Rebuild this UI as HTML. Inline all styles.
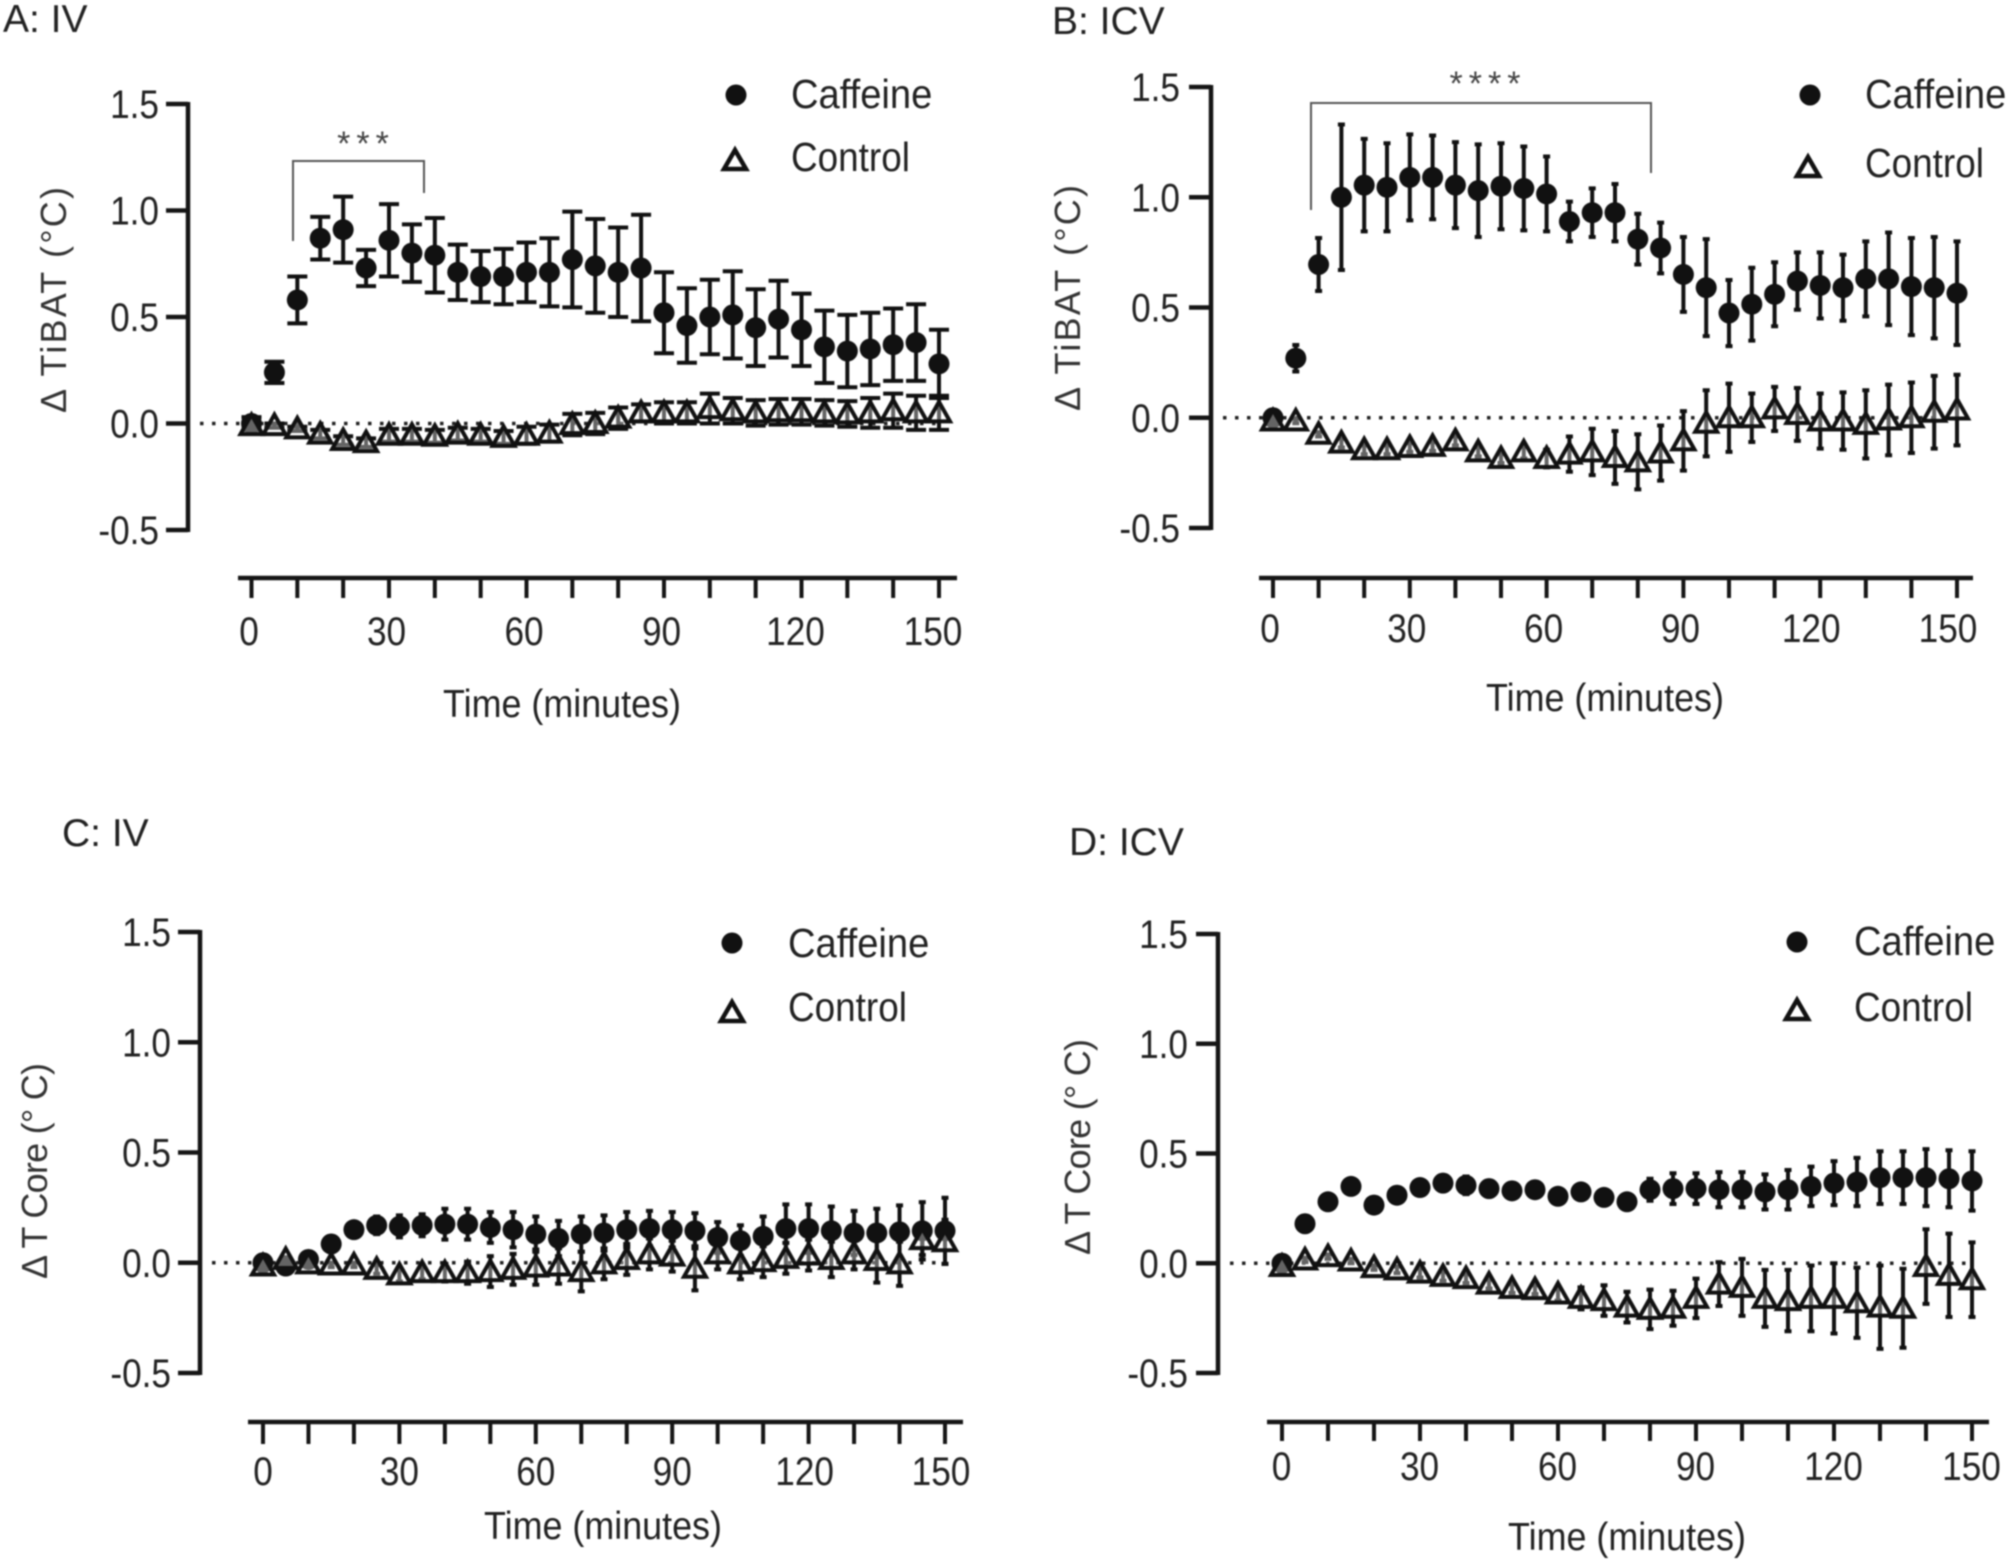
<!DOCTYPE html>
<html lang="en">
<head>
<meta charset="utf-8">
<title>Caffeine effect on TiBAT and core temperature</title>
<style>
html,body{margin:0;padding:0;background:#fff;width:2007px;height:1564px;overflow:hidden}
svg{display:block;filter:blur(.9px)}
text{font-family:"Liberation Sans",sans-serif;fill:#222;font-size:36px}
</style>
</head>
<body>
<svg id="figure" width="2007" height="1564" viewBox="0 0 2007 1564" xmlns="http://www.w3.org/2000/svg">
  <rect width="2007" height="1564" fill="#fff"/>

  <g id="panel-a">
    <text x="3" y="32" style="font-size:39px">A: IV</text>
    <text transform="translate(66,300) rotate(-90)" text-anchor="middle" textLength="226" style="fill:#333">Δ TiBAT (°C)</text>
    <text transform="translate(562,717) scale(.92,1)" text-anchor="middle" style="font-size:39px">Time (minutes)</text>
    <circle cx="736" cy="95" r="10.5" fill="#111"/>
    <text transform="translate(791,108) scale(.93,1)" style="font-size:41px">Caffeine</text>
    <path d="M735 150 L746 169 L724 169 Z" fill="#fff" stroke="#111" stroke-width="4.5"/>
    <text transform="translate(791,171) scale(.9,1)" style="font-size:41px">Control</text>
    <path d="M293 241 V161 H424 V193" fill="none" stroke="#555" stroke-width="2"/>
    <text x="366" y="155" text-anchor="middle" style="font-size:34px;letter-spacing:6px;fill:#444">***</text>
  </g>

  <g id="panel-b">
    <text x="1052" y="34" style="font-size:39px">B: ICV</text>
    <text transform="translate(1080,298) rotate(-90)" text-anchor="middle" textLength="226" style="fill:#333">Δ TiBAT (°C)</text>
    <text transform="translate(1605,711) scale(.92,1)" text-anchor="middle" style="font-size:39px">Time (minutes)</text>
    <circle cx="1810" cy="95" r="10.5" fill="#111"/>
    <text transform="translate(1865,108) scale(.93,1)" style="font-size:41px">Caffeine</text>
    <path d="M1808 157 L1819 176 L1797 176 Z" fill="#fff" stroke="#111" stroke-width="4.5"/>
    <text transform="translate(1865,177) scale(.9,1)" style="font-size:41px">Control</text>
    <path d="M1311 210 V103 H1651 V173" fill="none" stroke="#555" stroke-width="2"/>
    <text x="1488" y="95" text-anchor="middle" style="font-size:34px;letter-spacing:6px;fill:#444">****</text>
  </g>

  <g id="panel-c">
    <text x="62" y="846" style="font-size:39px">C: IV</text>
    <text transform="translate(47,1171) rotate(-90)" text-anchor="middle" textLength="216" style="fill:#333">Δ T Core (° C)</text>
    <text transform="translate(603,1539) scale(.92,1)" text-anchor="middle" style="font-size:39px">Time (minutes)</text>
    <circle cx="732" cy="943" r="10.5" fill="#111"/>
    <text transform="translate(788,957) scale(.93,1)" style="font-size:41px">Caffeine</text>
    <path d="M732 1002 L743 1021 L721 1021 Z" fill="#fff" stroke="#111" stroke-width="4.5"/>
    <text transform="translate(788,1021) scale(.9,1)" style="font-size:41px">Control</text>
  </g>

  <g id="panel-d">
    <text x="1069" y="855" style="font-size:39px">D: ICV</text>
    <text transform="translate(1090,1147) rotate(-90)" text-anchor="middle" textLength="216" style="fill:#333">Δ T Core (° C)</text>
    <text transform="translate(1627,1550) scale(.92,1)" text-anchor="middle" style="font-size:39px">Time (minutes)</text>
    <circle cx="1797" cy="942" r="10.5" fill="#111"/>
    <text transform="translate(1854,955) scale(.93,1)" style="font-size:41px">Caffeine</text>
    <path d="M1797 1000 L1808 1019 L1786 1019 Z" fill="#fff" stroke="#111" stroke-width="4.5"/>
    <text transform="translate(1854,1021) scale(.9,1)" style="font-size:41px">Control</text>
  </g>
</svg>

<script>
const timeMinutes = [0,5,10,15,20,25,30,35,40,45,50,55,60,65,70,75,80,85,90,95,100,105,110,115,120,125,130,135,140,145,150];
const xTickMinutes = [0,10,20,30,40,50,60,70,80,90,100,110,120,130,140,150];
const xTickLabels = ["0","30","60","90","120","150"];
const yTickLabels = ["1.5","1.0","0.5","0.0","-0.5"];

const panelACaffeineMean = [0,.24,.58,.87,.91,.73,.86,.80,.79,.71,.69,.69,.71,.71,.77,.74,.71,.73,.52,.46,.50,.51,.45,.49,.44,.36,.34,.35,.37,.38,.28];
const panelACaffeineError = [.03,.05,.11,.10,.155,.085,.17,.135,.175,.13,.12,.13,.14,.16,.225,.22,.21,.25,.19,.175,.175,.205,.18,.18,.17,.17,.17,.17,.17,.18,.16];
const panelAControlMean = [-.01,-.01,-.025,-.05,-.08,-.09,-.055,-.055,-.06,-.05,-.055,-.065,-.055,-.045,-.005,0,.025,.05,.05,.05,.07,.06,.05,.055,.055,.05,.045,.05,.06,.05,.05];
const panelAControlError = [0,.01,.01,.02,.02,.02,.03,.03,.03,.03,.03,.03,.04,.04,.05,.05,.05,.04,.05,.05,.07,.06,.06,.06,.06,.06,.06,.07,.08,.08,.08];

const panelBCaffeineMean = [0,.27,.695,1.0,1.055,1.045,1.09,1.09,1.055,1.03,1.05,1.04,1.015,.89,.93,.93,.81,.77,.65,.59,.475,.515,.56,.62,.60,.59,.63,.63,.595,.59,.565];
const panelBCaffeineError = [.02,.06,.12,.33,.21,.20,.195,.19,.195,.21,.195,.19,.17,.09,.11,.13,.115,.115,.17,.22,.15,.165,.145,.13,.15,.15,.17,.21,.22,.23,.235];
const panelBControlMean = [-.015,-.015,-.075,-.115,-.145,-.145,-.135,-.13,-.105,-.155,-.185,-.155,-.185,-.165,-.155,-.18,-.20,-.16,-.105,-.025,0,0,.04,.015,-.015,-.015,-.03,-.01,0,.025,.035];
const panelBControlError = [0,.01,.01,.02,.02,.02,.02,.02,.02,.02,.02,.03,.04,.08,.105,.12,.125,.125,.135,.15,.155,.11,.10,.12,.125,.13,.155,.16,.16,.165,.16];

const panelCCaffeineMean = [0,-.015,.015,.085,.15,.17,.165,.17,.175,.175,.16,.15,.13,.11,.13,.135,.15,.155,.15,.145,.115,.10,.12,.155,.155,.145,.135,.135,.14,.145,.145];
const panelCCaffeineError = [.01,.01,.01,.02,.03,.04,.05,.05,.07,.07,.07,.08,.08,.08,.08,.08,.08,.08,.08,.08,.07,.07,.09,.11,.11,.11,.10,.11,.12,.13,.15];
const panelCControlMean = [-.015,.015,-.005,-.01,-.01,-.03,-.055,-.045,-.045,-.045,-.04,-.03,-.02,-.015,-.04,-.005,.015,.04,.03,-.025,.04,-.005,.005,.02,.035,.015,.04,.01,-.005,.105,.095];
const panelCControlError = [.01,.01,.01,.01,.01,.02,.03,.03,.04,.05,.07,.07,.08,.08,.09,.07,.07,.07,.07,.10,.07,.07,.07,.07,.07,.08,.07,.10,.10,.07,.10];

const panelDCaffeineMean = [0,.18,.28,.35,.265,.31,.345,.365,.355,.34,.33,.335,.305,.325,.30,.28,.335,.34,.34,.335,.335,.325,.335,.35,.365,.37,.39,.39,.39,.385,.375];
const panelDCaffeineError = [.01,.02,.02,.02,.02,.03,.03,.03,.04,.03,.02,.02,.02,.02,.03,.03,.05,.07,.07,.08,.08,.08,.09,.09,.10,.11,.12,.12,.13,.13,.135];
const panelDControlMean = [-.015,.015,.03,.01,-.02,-.03,-.045,-.06,-.07,-.095,-.115,-.12,-.14,-.16,-.17,-.20,-.21,-.205,-.16,-.095,-.11,-.16,-.17,-.16,-.16,-.18,-.20,-.205,-.015,-.055,-.075];
const panelDControlError = [.01,.01,.01,.01,.01,.015,.02,.02,.02,.02,.02,.02,.03,.05,.07,.07,.09,.08,.09,.10,.13,.13,.14,.15,.16,.16,.19,.18,.17,.19,.17];

const SVG_NS = 'http://www.w3.org/2000/svg';

function node(parent, tag, attrs) {
  const el = document.createElementNS(SVG_NS, tag);
  for (const k in attrs) el.setAttribute(k, attrs[k]);
  parent.appendChild(el);
  return el;
}

function drawPanel(id, g, caffeineMean, caffeineError, controlMean, controlError) {
  const root = document.getElementById(id);
  const lastTime = timeMinutes[timeMinutes.length - 1];
  const maxY = parseFloat(yTickLabels[0]);
  const minY = parseFloat(yTickLabels[yTickLabels.length - 1]);
  const xScale = t => g.x0 + (t - timeMinutes[0]) / (lastTime - timeMinutes[0]) * (g.x1 - g.x0);
  const yScale = v => g.yTop + (maxY - v) / (maxY - minY) * (g.yBottom - g.yTop);
  const ink = '#151515';

  const yAxis = node(root, 'line', {x1: g.axisX, x2: g.axisX, y1: yScale(maxY) - 2, y2: yScale(minY) + 2, stroke: ink, 'stroke-width': 4.5});
  
  

  yTickLabels.forEach(label => {
    const value = parseFloat(label);
    const tick = node(root, 'line', {x1: g.axisX - 22, x2: g.axisX, y1: yScale(value), y2: yScale(value), stroke: ink, 'stroke-width': 4.5});
    
    
    const text = node(root, 'text', {transform: 'translate(' + g.yLabelX + ',' + (yScale(value) + 14) + ') scale(.88,1)', 'text-anchor': 'end', style: 'font-size:40px'});
    
    
    text.textContent = label;
  });

  const xAxis = node(root, 'line', {x1: g.xLineStart, x2: g.xLineEnd, y1: g.xLineY, y2: g.xLineY, stroke: ink, 'stroke-width': 4.5});
  
  

  xTickMinutes.forEach(t => {
    const tick = node(root, 'line', {x1: xScale(t), x2: xScale(t), y1: g.xLineY, y2: g.xLineY + g.tickLen, stroke: ink, 'stroke-width': 4});
    
    
  });

  xTickLabels.forEach(label => {
    const shift = label.length > 2 ? g.wideLabelShift : g.labelShift;
    const text = node(root, 'text', {transform: 'translate(' + (xScale(parseFloat(label)) + shift) + ',' + g.xLabelY + ') scale(.88,1)', 'text-anchor': 'middle', style: 'font-size:40px'});
    
    
    text.textContent = label;
  });

  const zero = node(root, 'line', {x1: g.axisX + 12, x2: xScale(lastTime), y1: yScale(0), y2: yScale(0), stroke: '#222', 'stroke-width': 3.5, 'stroke-dasharray': '3.5 8.5'});
  
  

  function errorBar(t, mean, err) {
    const x = xScale(t);
    const top = yScale(mean + err);
    const bottom = yScale(mean - err);
    const half = g.cap / 2;
    const bar = node(root, 'path', {
      d: 'M' + x + ' ' + top + 'V' + bottom + 'M' + (x - half) + ' ' + top + 'H' + (x + half) + 'M' + (x - half) + ' ' + bottom + 'H' + (x + half),
      fill: 'none', stroke: '#111', 'stroke-width': 4
    });
    return bar;
  }

  timeMinutes.forEach((t, i) => {
    const bar = errorBar(t, caffeineMean[i], caffeineError[i]);
    
    
    const point = node(root, 'circle', {cx: xScale(t), cy: yScale(caffeineMean[i]), r: 10.5, fill: '#111'});
    
    
  });

  timeMinutes.forEach((t, i) => {
    const bar = errorBar(t, controlMean[i], controlError[i]);
    
    
    const x = xScale(t);
    const y = yScale(controlMean[i]);
    const point = node(root, 'path', {
      d: 'M' + x + ' ' + (y - 11) + 'L' + (x + 11) + ' ' + (y + 8.5) + 'L' + (x - 11) + ' ' + (y + 8.5) + 'Z',
      fill: 'rgba(255,255,255,.35)', stroke: '#111', 'stroke-width': 4
    });
    
    
  });
}

drawPanel('panel-a', {axisX: 188, yTop: 104, yBottom: 530, yLabelX: 159, x0: 251.5, x1: 939, xLineStart: 238, xLineEnd: 957, xLineY: 578, tickLen: 20, xLabelY: 645, cap: 20, labelShift: -2.5, wideLabelShift: -6},
  panelACaffeineMean, panelACaffeineError, panelAControlMean, panelAControlError);
drawPanel('panel-b', {axisX: 1211, yTop: 87, yBottom: 528, yLabelX: 1180, x0: 1273, x1: 1957, xLineStart: 1259, xLineEnd: 1973, xLineY: 578, tickLen: 20, xLabelY: 642, cap: 7, labelShift: -3, wideLabelShift: -9},
  panelBCaffeineMean, panelBCaffeineError, panelBControlMean, panelBControlError);
drawPanel('panel-c', {axisX: 200, yTop: 932, yBottom: 1373, yLabelX: 171, x0: 263, x1: 945, xLineStart: 248, xLineEnd: 963, xLineY: 1422, tickLen: 22, xLabelY: 1485, cap: 7, labelShift: 0, wideLabelShift: -4},
  panelCCaffeineMean, panelCCaffeineError, panelCControlMean, panelCControlError);
drawPanel('panel-d', {axisX: 1218, yTop: 934, yBottom: 1373, yLabelX: 1188, x0: 1282, x1: 1972, xLineStart: 1267, xLineEnd: 1989, xLineY: 1422, tickLen: 19, xLabelY: 1480, cap: 7, labelShift: -0.5, wideLabelShift: -0.5},
  panelDCaffeineMean, panelDCaffeineError, panelDControlMean, panelDControlError);
</script>
</body>
</html>
